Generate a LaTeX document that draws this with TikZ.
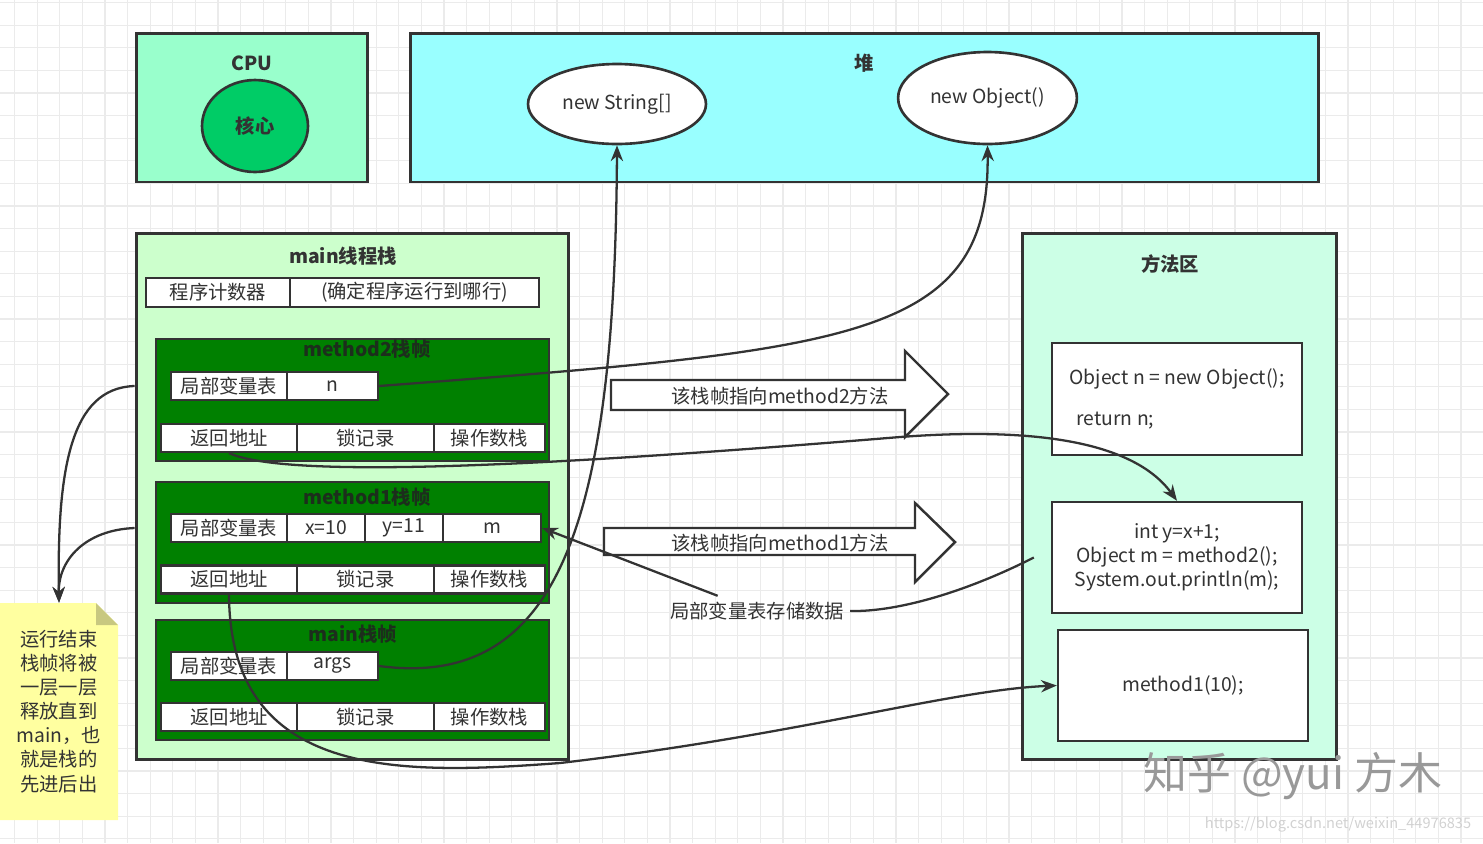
\documentclass[tikz,border=0pt]{standalone}
\usepackage{fontspec}
\setmainfont{Noto Sans CJK SC}
\usepackage{xcolor}
\usetikzlibrary{shapes.geometric, arrows.meta, positioning}
\definecolor{linegray}{HTML}{333333}
\definecolor{cpufill}{HTML}{99FFCC}
\definecolor{corefill}{HTML}{00CC66}
\definecolor{heapfill}{HTML}{99FFFF}
\definecolor{stackfill}{HTML}{CCFFCC}
\definecolor{framegreen}{HTML}{008000}
\definecolor{frametext}{HTML}{1C2E1C}
\definecolor{methodfill}{HTML}{CCFFE6}
\definecolor{notefill}{HTML}{FFFFA0}
\definecolor{notefold}{HTML}{C8C880}
\newcommand{\diagfont}{\fontsize{11}{13.7}\selectfont}
\tikzstyle{gridline}   = [draw=black!8, line width=0.6pt]
\tikzstyle{arrow}      = [line width=1.3pt, draw=linegray, -{Stealth[length=9pt,width=7pt]}]
\tikzstyle{wire}       = [line width=1.3pt, draw=linegray]
\tikzstyle{area}       = [rectangle, draw=linegray, line width=1.7pt]
\tikzstyle{frame}      = [rectangle, draw=linegray, line width=1.4pt, fill=framegreen, minimum width=7.86cm]
\tikzstyle{cell}       = [rectangle, draw=linegray, line width=1.3pt, fill=white, minimum height=0.56cm, inner sep=0pt]
\tikzstyle{codebox}    = [rectangle, draw=linegray, line width=1.4pt, fill=white, minimum width=5cm, minimum height=2.22cm]
\tikzstyle{blob}       = [ellipse, draw=linegray, line width=1.5pt, fill=white]
\tikzstyle{blockarrow} = [draw=linegray, line width=1.4pt, fill=white, line join=miter]
\tikzstyle{title}      = [font=\diagfont\bfseries]
\tikzstyle{frametitle} = [font=\diagfont\bfseries, text=frametext]
\tikzset{every node/.style={align=center, text=linegray, font=\diagfont}}

\begin{document}
\begin{tikzpicture}[x=0.02cm, y=-0.02cm]
    \useasboundingbox (0,0) rectangle (1483,843);

    % background grid
    \foreach \i in {0,...,65}
        \draw [gridline] ({14.6+22.6*\i},0) -- ({14.6+22.6*\i},843);
    \foreach \j in {0,...,37}
        \draw [gridline] (0,{2.6+22.6*\j}) -- (1483,{2.6+22.6*\j});

    % CPU and heap
    \node (cpu)    at (252,107.5)  [area, fill=cpufill, minimum width=4.64cm, minimum height=2.98cm] {};
    \node (cputt)  at (252,63)     [title] {CPU};
    \node (core)   at (255,126)    [ellipse, draw=linegray, line width=1.5pt, fill=corefill,
                                    minimum width=2.12cm, minimum height=1.84cm, font=\diagfont\bfseries] {核心};
    \node (heap)   at (864.5,107.5) [area, fill=heapfill, minimum width=18.18cm, minimum height=2.98cm] {};
    \node (heaptt) at (864,63)     [title] {堆};
    \node (strnew) at (617,104)    [blob, minimum width=3.56cm, minimum height=1.6cm] {new String[]};
    \node (objnew) at (987.5,98)   [blob, minimum width=3.46cm, minimum height=1.84cm] {new Object()};

    % main thread stack
    \node (stack)   at (352.5,496.5) [area, fill=stackfill, minimum width=8.66cm, minimum height=10.54cm] {};
    \node (stacktt) at (343,256)     [title] {main线程栈};
    \node (pc)      at (218,292.5)   [cell, minimum width=2.88cm, minimum height=0.58cm] {程序计数器};
    \node (pcnote)  at (414.5,292.5) [cell, minimum width=4.98cm, minimum height=0.58cm] {(确定程序运行到哪行)};

    % method2 frame
    \node (m2)    at (352.5,400) [frame, minimum height=2.44cm] {};
    \node (m2tt)  at (367,349)   [frametitle] {method2栈帧};
    \node (m2lv)  at (229,386)   [cell, minimum width=2.32cm] {局部变量表};
    \node (m2n)   at (332.5,386) [cell, minimum width=1.82cm] {n};
    \node (m2ret) at (229,438)   [cell, minimum width=2.72cm] {返回地址};
    \node (m2lk)  at (365.5,438) [cell, minimum width=2.74cm] {锁记录};
    \node (m2op)  at (489.5,438) [cell, minimum width=2.22cm] {操作数栈};

    % method1 frame
    \node (m1)    at (352.5,542.5) [frame, minimum height=2.42cm] {};
    \node (m1tt)  at (367,497)     [frametitle] {method1栈帧};
    \node (m1lv)  at (229,528)     [cell, minimum width=2.32cm] {局部变量表};
    \node (m1x)   at (326,528)     [cell, minimum width=1.56cm] {x=10};
    \node (m1y)   at (404,528)     [cell, minimum width=1.56cm] {y=11};
    \node (m1m)   at (492,528)     [cell, minimum width=1.96cm] {m};
    \node (m1ret) at (229,579.5)   [cell, minimum width=2.72cm] {返回地址};
    \node (m1lk)  at (365.5,579.5) [cell, minimum width=2.74cm] {锁记录};
    \node (m1op)  at (489.5,579.5) [cell, minimum width=2.22cm] {操作数栈};

    % main frame
    \node (mf)     at (352.5,680) [frame, minimum height=2.4cm] {};
    \node (mftt)   at (353,634)   [frametitle] {main栈帧};
    \node (mflv)   at (229,666)   [cell, minimum width=2.32cm] {局部变量表};
    \node (mfargs) at (332.5,666) [cell, minimum width=1.82cm] {args};
    \node (mfret)  at (229,717)   [cell, minimum width=2.72cm] {返回地址};
    \node (mflk)   at (365.5,717) [cell, minimum width=2.74cm] {锁记录};
    \node (mfop)   at (489.5,717) [cell, minimum width=2.22cm] {操作数栈};

    % method area
    \node (marea)   at (1179.5,496.5) [area, fill=methodfill, minimum width=6.3cm, minimum height=10.54cm] {};
    \node (mareatt) at (1170,264)     [title] {方法区};
    \node (code1)   at (1177,399)     [codebox, minimum height=2.24cm, align=left]
          {Object n\ = new Object();\\[10pt]\hspace{4pt}return n;};
    \node (code2)   at (1177,557.5)   [codebox] {int y=x+1;\\Object m\ = method2();\\System.out.println(m);};
    \node (code3)   at (1183,685.5)   [codebox] {method1(10);};

    % note
    \fill [notefill] (0,603) -- (96,603) -- (118,625) -- (118,820) -- (0,820) -- cycle;
    \fill [notefold] (96,603) -- (118,625) -- (96,625) -- cycle;
    \node (note) at (59,711.5) [minimum width=2.36cm, minimum height=4.34cm]
          {运行结束\\栈帧将被\\一层一层\\释放直到\\main，也\\就是栈的\\先进后出};

    % block arrows
    \draw [blockarrow] (611,380) -- (905,380) -- (905,351) -- (948,394) -- (905,437) -- (905,410) -- (611,410) -- cycle;
    \node (to2) at (780,396) {该栈帧指向method2方法};
    \draw [blockarrow] (604,528) -- (915,528) -- (915,503) -- (955,542) -- (915,582) -- (915,555) -- (604,555) -- cycle;
    \node (to1) at (780,543) {该栈帧指向method1方法};

    \node (store) at (757,611) {局部变量表存储数据};

    % connectors
    \draw [arrow] (m2n.east) .. controls (850,350) and (990,340) .. (objnew.south);
    \draw [arrow] (mfargs.east) .. controls (560,690) and (615,520) .. (strnew.south);
    \draw [arrow] (m2ret.south) .. controls (290,480) and (560,465) .. (900,437)
                  .. controls (1060,425) and (1140,450) .. (code2.north);
    \draw [arrow] (m1ret.south) .. controls (230,780) and (400,775) .. (560,763)
                  .. controls (800,735) and (950,690) .. (code3.west);
    \draw [wire]  ([xshift=-0.34cm]code2.west) .. controls (970,590) and (900,612) .. (store.east);
    \draw [arrow] (store) -- (m1m.east);
    \draw [arrow] (stack.west |- m2lv.west) .. controls (70,388) and (57,470) .. (note.north);
    \draw [arrow] (stack.west |- m1lv.west) .. controls (85,530) and (58,560) .. (note.north);

    % watermarks
    \node (zhihu) at (1293,776) [text=black!40, font=\fontsize{25}{28}\selectfont] {知乎 @yui 方木};
    \node (csdn)  at (1338,824) [text=black!18, font=\fontsize{8.3}{10}\selectfont] {https://blog.csdn.net/weixin\_44976835};
\end{tikzpicture}
\end{document}
